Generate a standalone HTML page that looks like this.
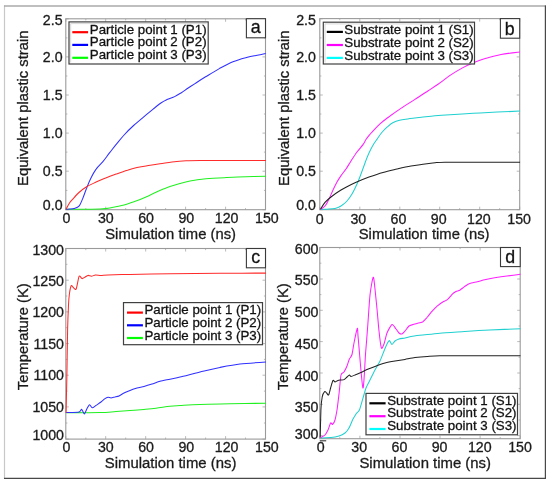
<!DOCTYPE html>
<html lang="en">
<head>
<meta charset="utf-8">
<title>Simulation plots</title>
<style>html,body{margin:0;padding:0;background:#ffffff;}body{width:550px;height:483px;overflow:hidden;}</style>
</head>
<body>
<svg width="550" height="483" viewBox="0 0 550 483" font-family='"Liberation Sans", sans-serif' style="display:block" stroke-linecap="butt">
<style>text{stroke:#1a1a1a;stroke-width:0.3px;paint-order:stroke;}</style>
<rect x="0" y="0" width="550" height="483" fill="#ffffff"/>
<line x1="4.5" y1="5.5" x2="4.5" y2="478.5" stroke="#c8c8c8" stroke-width="1.2"/>
<line x1="4" y1="6" x2="546" y2="6" stroke="#aaaaaa" stroke-width="1.5"/>
<line x1="545.4" y1="5.5" x2="545.4" y2="479" stroke="#484848" stroke-width="1.2"/>
<line x1="4" y1="478.3" x2="546" y2="478.3" stroke="#484848" stroke-width="1.2"/>
<g id="panel-a">
<clipPath id="clip-a"><rect x="65.2" y="18.2" width="200.9" height="192.2"/></clipPath>
<path d="M65.8,209.7 v-3.0 M65.8,18.8 v3.0 M85.8,209.7 v-1.6 M85.8,18.8 v1.6 M105.7,209.7 v-3.0 M105.7,18.8 v3.0 M125.7,209.7 v-1.6 M125.7,18.8 v1.6 M145.7,209.7 v-3.0 M145.7,18.8 v3.0 M165.6,209.7 v-1.6 M165.6,18.8 v1.6 M185.6,209.7 v-3.0 M185.6,18.8 v3.0 M205.6,209.7 v-1.6 M205.6,18.8 v1.6 M225.6,209.7 v-3.0 M225.6,18.8 v3.0 M245.5,209.7 v-1.6 M245.5,18.8 v1.6 M265.5,209.7 v-3.0 M265.5,18.8 v3.0 M65.8,18.8 h3.0 M265.5,18.8 h-3.0 M65.8,37.9 h1.6 M265.5,37.9 h-1.6 M65.8,56.9 h3.0 M265.5,56.9 h-3.0 M65.8,76.0 h1.6 M265.5,76.0 h-1.6 M65.8,95.0 h3.0 M265.5,95.0 h-3.0 M65.8,114.0 h1.6 M265.5,114.0 h-1.6 M65.8,133.1 h3.0 M265.5,133.1 h-3.0 M65.8,152.1 h1.6 M265.5,152.1 h-1.6 M65.8,171.2 h3.0 M265.5,171.2 h-3.0 M65.8,190.4 h1.6 M265.5,190.4 h-1.6 M65.8,209.7 h3.0 M265.5,209.7 h-3.0" stroke="#a8a8a8" stroke-width="0.8" fill="none"/>
<rect x="65.8" y="18.8" width="199.7" height="190.9" fill="none" stroke="#9a9a9a" stroke-width="1.1"/>
<g clip-path="url(#clip-a)" fill="none" stroke-width="1.05" stroke-linejoin="round">
<path d="M65.8,209.3 C71.5,209.2 92.3,209.3 100.0,209.0 C107.7,208.7 108.0,208.3 112.0,207.6 C116.0,206.9 120.0,206.1 124.0,205.0 C128.0,203.9 132.3,202.3 136.0,201.0 C139.7,199.7 142.7,198.5 146.0,197.0 C149.3,195.5 153.0,193.6 156.0,192.2 C159.0,190.8 161.7,189.7 164.0,188.8 C166.3,187.9 167.3,187.5 170.0,186.6 C172.7,185.7 176.7,184.3 180.0,183.4 C183.3,182.5 185.7,181.8 190.0,181.0 C194.3,180.2 200.0,179.4 206.0,178.8 C212.0,178.2 219.3,177.9 226.0,177.6 C232.7,177.3 239.3,177.0 246.0,176.8 C252.7,176.6 262.7,176.3 266.0,176.2" stroke="#20f020"/>
<path d="M65.8,209.3 C66.5,209.3 68.6,209.2 70.0,209.1 C71.4,209.0 72.5,209.1 74.0,208.6 C75.5,208.1 77.6,207.8 79.0,206.2 C80.4,204.6 81.2,202.1 82.5,199.1 C83.8,196.1 85.2,191.6 86.6,188.2 C87.9,184.8 89.0,181.9 90.6,178.7 C92.2,175.5 94.0,171.9 96.1,169.1 C98.1,166.2 100.6,164.3 102.9,161.6 C105.2,158.9 107.4,155.6 109.7,152.7 C112.0,149.8 114.2,146.8 116.6,143.9 C119.0,141.0 121.3,138.1 124.1,135.0 C126.9,131.9 129.7,129.0 133.6,125.5 C137.5,122.0 142.8,117.7 147.3,113.9 C151.9,110.2 157.5,105.4 160.9,103.0 C164.3,100.6 165.4,100.4 167.7,99.3 C170.0,98.2 172.3,97.7 174.6,96.6 C176.9,95.5 179.1,94.1 181.4,92.7 C183.7,91.3 185.9,89.5 188.2,88.0 C190.5,86.5 192.1,85.5 195.0,83.6 C197.9,81.7 201.5,79.3 205.6,76.8 C209.7,74.3 214.8,71.1 219.3,68.6 C223.9,66.1 228.4,63.6 232.9,61.8 C237.4,59.9 242.1,58.7 246.6,57.5 C251.1,56.3 257.0,55.4 260.2,54.7 C263.4,54.1 264.8,53.8 265.7,53.6" stroke="#3030ff"/>
<path d="M65.8,209.6 C66.4,208.5 68.3,204.8 69.5,203.0 C70.7,201.2 71.3,200.8 72.8,199.1 C74.3,197.4 76.1,195.1 78.4,193.0 C80.7,190.9 83.6,188.6 86.6,186.8 C89.5,185.0 92.9,183.6 96.1,182.1 C99.3,180.6 102.3,179.4 105.7,178.0 C109.1,176.6 113.0,175.2 116.6,173.9 C120.2,172.6 124.1,171.2 127.5,170.2 C130.9,169.1 133.9,168.3 137.0,167.6 C140.1,166.9 142.2,166.5 146.0,165.9 C149.8,165.3 155.7,164.5 160.0,163.8 C164.3,163.2 167.7,162.5 172.0,162.0 C176.3,161.5 181.3,161.0 186.0,160.7 C190.7,160.4 192.7,160.4 200.0,160.4 C207.3,160.4 219.0,160.4 230.0,160.4 C241.0,160.4 260.0,160.4 266.0,160.4" stroke="#ff2a2a"/>
</g>
<text x="62.6" y="24.7" font-size="14.2" text-anchor="end" fill="#1a1a1a">2.5</text>
<text x="62.6" y="62.0" font-size="14.2" text-anchor="end" fill="#1a1a1a">2.0</text>
<text x="62.6" y="100.1" font-size="14.2" text-anchor="end" fill="#1a1a1a">1.5</text>
<text x="62.6" y="138.2" font-size="14.2" text-anchor="end" fill="#1a1a1a">1.0</text>
<text x="62.6" y="176.3" font-size="14.2" text-anchor="end" fill="#1a1a1a">0.5</text>
<text x="62.6" y="210.3" font-size="14.2" text-anchor="end" fill="#1a1a1a">0.0</text>
<text x="66.4" y="223.3" font-size="14.2" text-anchor="middle" fill="#1a1a1a">0</text>
<text x="105.8" y="223.3" font-size="14.2" text-anchor="middle" fill="#1a1a1a">30</text>
<text x="146.1" y="223.3" font-size="14.2" text-anchor="middle" fill="#1a1a1a">60</text>
<text x="186.3" y="223.3" font-size="14.2" text-anchor="middle" fill="#1a1a1a">90</text>
<text x="226.6" y="223.3" font-size="14.2" text-anchor="middle" fill="#1a1a1a">120</text>
<text x="266.9" y="223.3" font-size="14.2" text-anchor="middle" fill="#1a1a1a">150</text>
<text x="170.6" y="239.1" font-size="14.8" text-anchor="middle" fill="#1a1a1a">Simulation time (ns)</text>
<text transform="translate(28.0,108.2) rotate(-90)" font-size="14.8" text-anchor="middle" fill="#1a1a1a">Equivalent plastic strain</text>
<rect x="69.0" y="21.9" width="139.2" height="42.1" fill="#ffffff" stroke="#404040" stroke-width="1.2"/>
<path d="M70.7,62.5 V23.6 H206.7" fill="none" stroke="#d4d4d4" stroke-width="0.9"/>
<line x1="72.3" y1="32.2" x2="88.1" y2="32.2" stroke="#ff0000" stroke-width="2.2"/>
<text x="89.8" y="33.7" font-size="13.3" fill="#111111">Particle point 1 (P1)</text>
<line x1="72.3" y1="44.9" x2="88.1" y2="44.9" stroke="#0000ff" stroke-width="2.2"/>
<text x="89.8" y="46.3" font-size="13.3" fill="#111111">Particle point 2 (P2)</text>
<line x1="72.3" y1="57.8" x2="88.1" y2="57.8" stroke="#00ff00" stroke-width="2.2"/>
<text x="89.8" y="59.2" font-size="13.3" fill="#111111">Particle point 3 (P3)</text>
<rect x="246.4" y="18.7" width="19.1" height="19.1" fill="#ffffff" stroke="#3a3a3a" stroke-width="1.1"/>
<text x="255.6" y="32.9" font-size="17.8" text-anchor="middle" fill="#111111">a</text>
</g>
<g id="panel-b">
<clipPath id="clip-b"><rect x="319.2" y="18.0" width="201.1" height="192.4"/></clipPath>
<path d="M319.8,209.7 v-3.0 M319.8,18.6 v3.0 M339.8,209.7 v-1.6 M339.8,18.6 v1.6 M359.8,209.7 v-3.0 M359.8,18.6 v3.0 M379.8,209.7 v-1.6 M379.8,18.6 v1.6 M399.8,209.7 v-3.0 M399.8,18.6 v3.0 M419.8,209.7 v-1.6 M419.8,18.6 v1.6 M439.7,209.7 v-3.0 M439.7,18.6 v3.0 M459.7,209.7 v-1.6 M459.7,18.6 v1.6 M479.7,209.7 v-3.0 M479.7,18.6 v3.0 M499.7,209.7 v-1.6 M499.7,18.6 v1.6 M519.7,209.7 v-3.0 M519.7,18.6 v3.0 M319.8,18.8 h3.0 M519.7,18.8 h-3.0 M319.8,37.9 h1.6 M519.7,37.9 h-1.6 M319.8,56.9 h3.0 M519.7,56.9 h-3.0 M319.8,76.0 h1.6 M519.7,76.0 h-1.6 M319.8,95.0 h3.0 M519.7,95.0 h-3.0 M319.8,114.0 h1.6 M519.7,114.0 h-1.6 M319.8,133.1 h3.0 M519.7,133.1 h-3.0 M319.8,152.1 h1.6 M519.7,152.1 h-1.6 M319.8,171.2 h3.0 M519.7,171.2 h-3.0 M319.8,190.4 h1.6 M519.7,190.4 h-1.6 M319.8,209.7 h3.0 M519.7,209.7 h-3.0" stroke="#a8a8a8" stroke-width="0.8" fill="none"/>
<rect x="319.8" y="18.6" width="199.9" height="191.1" fill="none" stroke="#9a9a9a" stroke-width="1.1"/>
<g clip-path="url(#clip-b)" fill="none" stroke-width="1.05" stroke-linejoin="round">
<path d="M320.4,209.3 C321.5,209.3 324.6,209.3 327.0,209.2 C329.4,209.0 332.7,208.9 335.0,208.4 C337.3,207.9 339.0,207.2 341.0,206.0 C343.0,204.8 345.2,203.0 347.0,201.0 C348.8,199.0 350.3,196.8 352.0,194.0 C353.7,191.2 355.5,187.3 357.0,184.0 C358.5,180.7 359.7,177.5 361.0,174.0 C362.3,170.5 363.7,166.5 365.0,163.0 C366.3,159.5 367.5,156.2 369.0,153.0 C370.5,149.8 372.6,145.9 374.0,143.6 C375.4,141.3 375.8,140.9 377.1,139.1 C378.4,137.2 380.1,134.5 381.8,132.5 C383.5,130.5 385.5,128.5 387.3,126.9 C389.1,125.3 390.6,123.9 392.7,122.8 C394.8,121.7 397.1,120.8 399.6,120.2 C402.1,119.6 404.1,119.4 407.7,118.9 C411.3,118.4 416.8,117.8 421.4,117.3 C425.9,116.8 430.2,116.2 435.0,115.8 C439.8,115.4 442.5,115.2 450.0,114.7 C457.5,114.2 468.3,113.5 480.0,112.9 C491.7,112.3 513.5,111.4 520.2,111.1" stroke="#20d0d0"/>
<path d="M320.4,209.3 C321.2,208.8 323.6,207.7 325.0,206.0 C326.4,204.3 327.7,201.7 329.0,199.0 C330.3,196.3 331.7,192.8 333.0,190.0 C334.3,187.2 335.7,184.4 337.0,182.0 C338.3,179.6 339.5,177.8 341.0,175.6 C342.5,173.4 344.3,171.4 346.0,169.0 C347.7,166.6 349.2,163.8 351.0,161.0 C352.8,158.2 355.0,154.7 357.0,152.0 C359.0,149.3 361.5,146.7 363.0,144.6 C364.5,142.5 365.0,141.0 366.1,139.3 C367.2,137.6 368.6,136.1 369.8,134.6 C371.1,133.1 371.8,132.2 373.6,130.3 C375.4,128.4 378.2,125.5 380.5,123.4 C382.8,121.4 383.9,120.5 387.3,118.0 C390.7,115.5 396.3,111.5 400.9,108.4 C405.4,105.3 410.1,102.5 414.6,99.6 C419.2,96.6 424.3,93.2 428.2,90.7 C432.1,88.2 434.4,86.8 438.0,84.3 C441.6,81.8 446.0,78.1 450.0,75.4 C454.0,72.7 458.0,70.3 462.0,68.1 C466.0,65.9 470.0,64.0 474.0,62.4 C478.0,60.8 481.5,59.6 486.0,58.3 C490.5,57.0 495.3,55.6 501.0,54.5 C506.7,53.4 517.0,52.3 520.2,51.9" stroke="#ff20ff"/>
<path d="M320.4,209.3 C321.2,208.2 323.2,204.5 325.0,202.4 C326.8,200.3 328.3,199.1 331.0,197.0 C333.7,194.9 337.0,192.4 341.0,190.0 C345.0,187.6 350.3,185.0 355.0,182.8 C359.7,180.6 364.3,178.7 369.0,177.0 C373.7,175.3 378.3,173.7 383.0,172.4 C387.7,171.1 392.3,170.1 397.0,169.0 C401.7,167.9 406.3,166.8 411.0,166.0 C415.7,165.2 421.0,164.6 425.0,164.0 C429.0,163.4 431.7,163.0 435.0,162.7 C438.3,162.4 437.5,162.3 445.0,162.2 C452.5,162.1 467.5,162.2 480.0,162.2 C492.5,162.2 513.5,162.2 520.2,162.2" stroke="#222222"/>
</g>
<text x="315.9" y="24.7" font-size="14.2" text-anchor="end" fill="#1a1a1a">2.5</text>
<text x="315.9" y="62.0" font-size="14.2" text-anchor="end" fill="#1a1a1a">2.0</text>
<text x="315.9" y="100.1" font-size="14.2" text-anchor="end" fill="#1a1a1a">1.5</text>
<text x="315.9" y="138.2" font-size="14.2" text-anchor="end" fill="#1a1a1a">1.0</text>
<text x="315.9" y="176.3" font-size="14.2" text-anchor="end" fill="#1a1a1a">0.5</text>
<text x="315.9" y="210.3" font-size="14.2" text-anchor="end" fill="#1a1a1a">0.0</text>
<text x="319.6" y="223.9" font-size="14.2" text-anchor="middle" fill="#1a1a1a">0</text>
<text x="358.3" y="223.9" font-size="14.2" text-anchor="middle" fill="#1a1a1a">30</text>
<text x="398.5" y="223.9" font-size="14.2" text-anchor="middle" fill="#1a1a1a">60</text>
<text x="438.7" y="223.9" font-size="14.2" text-anchor="middle" fill="#1a1a1a">90</text>
<text x="478.9" y="223.9" font-size="14.2" text-anchor="middle" fill="#1a1a1a">120</text>
<text x="519.1" y="223.9" font-size="14.2" text-anchor="middle" fill="#1a1a1a">150</text>
<text x="424.1" y="238.6" font-size="14.8" text-anchor="middle" fill="#1a1a1a">Simulation time (ns)</text>
<text transform="translate(288.9,108.2) rotate(-90)" font-size="14.8" text-anchor="middle" fill="#1a1a1a">Equivalent plastic strain</text>
<rect x="323.3" y="22.2" width="151.2" height="41.8" fill="#ffffff" stroke="#404040" stroke-width="1.2"/>
<path d="M325.0,62.5 V23.9 H473.0" fill="none" stroke="#d4d4d4" stroke-width="0.9"/>
<line x1="326.8" y1="31.9" x2="342.9" y2="31.9" stroke="#000000" stroke-width="2.2"/>
<text x="344.3" y="33.8" font-size="13.3" fill="#111111">Substrate point 1 (S1)</text>
<line x1="326.8" y1="45.0" x2="342.9" y2="45.0" stroke="#ff00ff" stroke-width="2.2"/>
<text x="344.3" y="46.6" font-size="13.3" fill="#111111">Substrate point 2 (S2)</text>
<line x1="326.8" y1="57.9" x2="342.9" y2="57.9" stroke="#00ffff" stroke-width="2.2"/>
<text x="344.3" y="59.6" font-size="13.3" fill="#111111">Substrate point 3 (S3)</text>
<rect x="500.4" y="18.6" width="19.3" height="19.6" fill="#ffffff" stroke="#3a3a3a" stroke-width="1.1"/>
<text x="509.8" y="35.0" font-size="17.8" text-anchor="middle" fill="#111111">b</text>
</g>
<g id="panel-c">
<clipPath id="clip-c"><rect x="65.2" y="247.9" width="200.9" height="191.9"/></clipPath>
<path d="M65.8,439.1 v-3.0 M65.8,248.5 v3.0 M85.8,439.1 v-1.6 M85.8,248.5 v1.6 M105.7,439.1 v-3.0 M105.7,248.5 v3.0 M125.7,439.1 v-1.6 M125.7,248.5 v1.6 M145.7,439.1 v-3.0 M145.7,248.5 v3.0 M165.6,439.1 v-1.6 M165.6,248.5 v1.6 M185.6,439.1 v-3.0 M185.6,248.5 v3.0 M205.6,439.1 v-1.6 M205.6,248.5 v1.6 M225.6,439.1 v-3.0 M225.6,248.5 v3.0 M245.5,439.1 v-1.6 M245.5,248.5 v1.6 M265.5,439.1 v-3.0 M265.5,248.5 v3.0 M65.8,248.5 h3.0 M265.5,248.5 h-3.0 M65.8,264.3 h1.6 M265.5,264.3 h-1.6 M65.8,280.2 h3.0 M265.5,280.2 h-3.0 M65.8,296.0 h1.6 M265.5,296.0 h-1.6 M65.8,311.9 h3.0 M265.5,311.9 h-3.0 M65.8,327.7 h1.6 M265.5,327.7 h-1.6 M65.8,343.6 h3.0 M265.5,343.6 h-3.0 M65.8,359.4 h1.6 M265.5,359.4 h-1.6 M65.8,375.2 h3.0 M265.5,375.2 h-3.0 M65.8,391.1 h1.6 M265.5,391.1 h-1.6 M65.8,406.9 h3.0 M265.5,406.9 h-3.0 M65.8,423.0 h1.6 M265.5,423.0 h-1.6 M65.8,439.1 h3.0 M265.5,439.1 h-3.0" stroke="#a8a8a8" stroke-width="0.8" fill="none"/>
<rect x="65.8" y="248.5" width="199.7" height="190.6" fill="none" stroke="#9a9a9a" stroke-width="1.1"/>
<g clip-path="url(#clip-c)" fill="none" stroke-width="1.05" stroke-linejoin="round">
<path d="M65.9,412.6 C71.6,412.6 91.7,412.8 100.0,412.6 C108.3,412.4 111.0,411.9 116.0,411.6 C121.0,411.3 125.3,411.0 130.0,410.6 C134.7,410.2 139.7,409.8 144.0,409.4 C148.3,409.0 151.7,408.7 156.0,408.2 C160.3,407.7 166.0,406.6 170.0,406.2 C174.0,405.8 175.0,405.8 180.0,405.5 C185.0,405.2 191.7,404.7 200.0,404.4 C208.3,404.1 219.0,404.0 230.0,403.8 C241.0,403.6 260.0,403.3 266.0,403.2" stroke="#20f020"/>
<path d="M65.9,412.6 C67.4,412.5 77.2,412.4 79.0,412.0 C80.8,411.6 81.0,409.0 81.6,409.2 C82.2,409.4 83.8,414.1 84.4,414.0 C85.0,413.9 86.4,409.6 87.0,408.5 C87.6,407.4 89.0,404.8 89.6,404.7 C90.2,404.6 91.5,407.7 92.2,407.8 C92.9,407.9 95.0,406.1 96.0,405.4 C97.0,404.7 100.0,402.8 101.0,402.0 C102.0,401.2 104.2,399.2 105.0,398.6 C105.8,398.0 107.3,397.3 108.0,397.2 C108.7,397.1 110.2,398.0 111.0,398.0 C111.8,398.0 114.1,397.2 115.0,397.0 C115.9,396.8 118.0,396.5 119.0,396.0 C120.0,395.5 122.7,393.7 124.0,393.0 C125.3,392.3 128.5,391.0 130.0,390.4 C131.5,389.8 135.4,388.5 137.0,388.0 C138.6,387.5 142.2,386.9 144.0,386.4 C145.8,385.9 150.1,384.6 152.0,384.0 C153.9,383.4 157.9,381.9 160.0,381.3 C162.1,380.7 167.7,379.7 170.0,379.2 C172.3,378.7 176.5,377.8 180.0,377.0 C183.5,376.2 195.3,373.1 200.0,372.0 C204.7,370.9 215.3,368.3 220.0,367.4 C224.7,366.5 234.6,364.6 240.0,364.0 C245.4,363.4 263.0,362.2 266.0,362.0" stroke="#3030ff"/>
<path d="M66.0,413.0 C66.1,409.1 66.6,389.7 66.8,380.0 C67.0,370.3 67.4,338.8 67.6,330.0 C67.8,321.2 68.3,309.2 68.5,305.0 C68.7,300.8 69.1,296.3 69.4,294.0 C69.7,291.7 70.8,286.4 71.3,285.6 C71.8,284.8 72.7,287.1 73.3,287.5 C73.9,287.9 75.5,290.3 76.2,289.0 C76.9,287.7 78.4,277.4 79.1,276.2 C79.8,275.0 81.3,278.5 82.0,278.6 C82.7,278.7 84.5,277.4 85.2,277.0 C85.9,276.6 87.3,275.5 88.0,275.4 C88.7,275.3 90.5,276.2 91.4,276.2 C92.3,276.2 94.4,275.1 95.5,275.0 C96.6,274.9 99.5,275.4 101.0,275.4 C102.5,275.4 104.6,275.0 108.0,274.9 C111.4,274.8 122.8,274.5 130.0,274.4 C137.2,274.3 159.5,273.9 170.0,273.8 C180.5,273.7 208.8,273.4 220.0,273.3 C231.2,273.2 260.6,273.1 266.0,273.1" stroke="#ff2a2a"/>
</g>
<text x="64.0" y="254.6" font-size="14.2" text-anchor="end" fill="#1a1a1a">1300</text>
<text x="64.0" y="285.7" font-size="14.2" text-anchor="end" fill="#1a1a1a">1250</text>
<text x="64.0" y="317.2" font-size="14.2" text-anchor="end" fill="#1a1a1a">1200</text>
<text x="64.0" y="348.9" font-size="14.2" text-anchor="end" fill="#1a1a1a">1150</text>
<text x="64.0" y="380.3" font-size="14.2" text-anchor="end" fill="#1a1a1a">1100</text>
<text x="64.0" y="412.0" font-size="14.2" text-anchor="end" fill="#1a1a1a">1050</text>
<text x="64.0" y="440.0" font-size="14.2" text-anchor="end" fill="#1a1a1a">1000</text>
<text x="66.4" y="452.0" font-size="14.2" text-anchor="middle" fill="#1a1a1a">0</text>
<text x="105.8" y="452.0" font-size="14.2" text-anchor="middle" fill="#1a1a1a">30</text>
<text x="146.1" y="452.0" font-size="14.2" text-anchor="middle" fill="#1a1a1a">60</text>
<text x="186.3" y="452.0" font-size="14.2" text-anchor="middle" fill="#1a1a1a">90</text>
<text x="226.6" y="452.0" font-size="14.2" text-anchor="middle" fill="#1a1a1a">120</text>
<text x="266.9" y="452.0" font-size="14.2" text-anchor="middle" fill="#1a1a1a">150</text>
<text x="170.6" y="468.4" font-size="14.9" text-anchor="middle" fill="#1a1a1a">Simulation time (ns)</text>
<text transform="translate(27.8,336.7) rotate(-90)" font-size="14.8" text-anchor="middle" fill="#1a1a1a">Temperature (K)</text>
<rect x="123.5" y="302.6" width="139.0" height="42.1" fill="#ffffff" stroke="#404040" stroke-width="1.2"/>
<line x1="127.0" y1="312.6" x2="142.9" y2="312.6" stroke="#ff0000" stroke-width="2.2"/>
<text x="144.4" y="313.9" font-size="13.3" fill="#111111">Particle point 1 (P1)</text>
<line x1="127.0" y1="325.3" x2="142.9" y2="325.3" stroke="#0000ff" stroke-width="2.2"/>
<text x="144.4" y="326.7" font-size="13.3" fill="#111111">Particle point 2 (P2)</text>
<line x1="127.0" y1="338.0" x2="142.9" y2="338.0" stroke="#00ff00" stroke-width="2.2"/>
<text x="144.4" y="339.5" font-size="13.3" fill="#111111">Particle point 3 (P3)</text>
<rect x="246.4" y="248.5" width="19.1" height="19.3" fill="#ffffff" stroke="#3a3a3a" stroke-width="1.1"/>
<text x="255.6" y="262.5" font-size="17.8" text-anchor="middle" fill="#111111">c</text>
</g>
<g id="panel-d">
<clipPath id="clip-d"><rect x="319.2" y="246.9" width="201.6" height="192.5"/></clipPath>
<path d="M319.8,438.7 v-3.0 M319.8,247.5 v3.0 M339.8,438.7 v-1.6 M339.8,247.5 v1.6 M359.9,438.7 v-3.0 M359.9,247.5 v3.0 M379.9,438.7 v-1.6 M379.9,247.5 v1.6 M400.0,438.7 v-3.0 M400.0,247.5 v3.0 M420.0,438.7 v-1.6 M420.0,247.5 v1.6 M440.0,438.7 v-3.0 M440.0,247.5 v3.0 M460.1,438.7 v-1.6 M460.1,247.5 v1.6 M480.1,438.7 v-3.0 M480.1,247.5 v3.0 M500.2,438.7 v-1.6 M500.2,247.5 v1.6 M520.2,438.7 v-3.0 M520.2,247.5 v3.0 M319.8,247.5 h3.0 M520.2,247.5 h-3.0 M319.8,263.2 h1.6 M520.2,263.2 h-1.6 M319.8,279.0 h3.0 M520.2,279.0 h-3.0 M319.8,294.6 h1.6 M520.2,294.6 h-1.6 M319.8,310.3 h3.0 M520.2,310.3 h-3.0 M319.8,326.0 h1.6 M520.2,326.0 h-1.6 M319.8,341.6 h3.0 M520.2,341.6 h-3.0 M319.8,357.3 h1.6 M520.2,357.3 h-1.6 M319.8,373.0 h3.0 M520.2,373.0 h-3.0 M319.8,388.6 h1.6 M520.2,388.6 h-1.6 M319.8,404.3 h3.0 M520.2,404.3 h-3.0 M319.8,420.0 h1.6 M520.2,420.0 h-1.6 M319.8,435.6 h3.0 M520.2,435.6 h-3.0" stroke="#a8a8a8" stroke-width="0.8" fill="none"/>
<rect x="319.8" y="247.5" width="200.4" height="191.2" fill="none" stroke="#9a9a9a" stroke-width="1.1"/>
<g clip-path="url(#clip-d)" fill="none" stroke-width="1.05" stroke-linejoin="round">
<path d="M320.6,438.0 C321.8,438.0 328.9,437.8 331.0,437.6 C333.1,437.4 337.4,436.5 339.0,436.0 C340.6,435.5 343.8,433.9 345.0,433.0 C346.2,432.1 348.1,429.6 349.0,428.0 C349.9,426.4 352.2,420.6 353.0,419.0 C353.8,417.4 355.3,415.1 356.0,414.0 C356.7,412.9 358.6,411.9 359.4,410.0 C360.2,408.1 362.2,400.6 363.0,398.0 C363.8,395.4 365.2,390.1 366.0,388.0 C366.8,385.9 368.9,382.1 370.0,380.0 C371.1,377.9 373.8,372.2 375.0,370.0 C376.2,367.8 378.9,363.2 380.0,361.0 C381.1,358.8 383.2,353.0 384.0,351.0 C384.8,349.0 386.4,345.2 387.0,344.0 C387.6,342.8 388.8,340.6 389.4,340.6 C390.0,340.6 391.3,344.4 392.0,344.4 C392.7,344.4 394.2,341.6 395.0,341.0 C395.8,340.4 397.8,339.4 399.0,339.0 C400.2,338.6 403.6,338.3 405.0,338.0 C406.4,337.7 409.6,336.9 411.0,336.6 C412.4,336.3 415.1,335.8 417.0,335.6 C418.9,335.4 424.7,334.8 427.4,334.5 C430.1,334.2 435.5,333.6 439.9,333.2 C444.3,332.8 458.9,331.9 464.7,331.5 C470.5,331.1 483.1,330.3 489.6,330.0 C496.1,329.7 517.0,328.9 520.6,328.8" stroke="#20d0d0"/>
<path d="M320.6,437.6 C321.1,437.3 324.1,435.9 325.0,435.0 C325.9,434.1 327.3,431.4 328.0,430.0 C328.7,428.6 330.1,423.7 330.6,423.0 C331.1,422.3 332.1,424.8 332.6,424.4 C333.1,424.0 334.5,421.7 335.0,420.0 C335.5,418.3 336.5,413.0 337.0,410.0 C337.5,407.0 338.5,398.1 339.0,394.0 C339.5,389.9 340.4,377.6 341.0,375.0 C341.6,372.4 343.3,373.1 344.0,372.0 C344.7,370.9 346.4,367.5 347.0,366.0 C347.6,364.5 348.8,360.3 349.4,359.0 C350.0,357.7 351.5,356.4 352.0,354.5 C352.5,352.6 353.4,346.0 354.0,343.0 C354.6,340.0 356.8,329.0 357.3,328.4 C357.8,327.8 357.5,331.0 358.2,338.0 C358.9,345.0 362.0,386.2 362.9,388.0 C363.8,389.8 365.0,360.4 365.6,353.0 C366.2,345.6 367.3,331.8 367.8,325.0 C368.3,318.2 369.4,300.6 370.0,295.0 C370.6,289.4 372.6,277.9 373.2,277.2 C373.8,276.5 374.6,285.3 375.0,289.0 C375.4,292.7 376.5,304.1 377.0,309.0 C377.5,313.9 378.5,326.4 379.0,331.0 C379.5,335.6 380.8,346.5 381.4,348.0 C382.0,349.5 383.3,345.8 384.0,344.0 C384.7,342.2 386.1,335.3 387.0,333.0 C387.9,330.7 390.9,325.1 392.0,324.6 C393.1,324.1 395.2,328.0 396.0,329.0 C396.8,330.0 398.3,332.4 399.0,333.0 C399.7,333.6 401.3,334.2 402.0,334.0 C402.7,333.8 404.2,331.9 405.0,331.0 C405.8,330.1 408.1,326.7 409.0,326.0 C409.9,325.3 412.1,324.9 413.0,324.6 C413.9,324.3 415.9,323.7 417.0,323.4 C418.1,323.1 421.3,322.7 422.5,322.0 C423.7,321.3 426.2,318.3 427.4,317.0 C428.6,315.7 431.2,312.2 432.4,310.9 C433.6,309.6 436.2,306.9 437.4,305.9 C438.6,304.9 441.2,302.9 442.4,302.2 C443.6,301.5 446.1,300.6 447.3,299.7 C448.5,298.8 451.3,295.2 452.3,294.2 C453.3,293.2 455.1,292.0 456.0,291.5 C456.9,291.0 458.8,290.8 459.8,290.2 C460.8,289.6 463.5,287.3 464.7,286.5 C465.9,285.7 468.2,284.0 469.7,283.5 C471.2,283.0 475.5,282.2 477.2,281.8 C478.9,281.4 482.6,280.3 484.6,279.8 C486.6,279.3 492.0,278.2 494.6,277.8 C497.2,277.4 504.0,276.4 507.0,276.0 C510.0,275.6 519.0,274.5 520.6,274.3" stroke="#ff20ff"/>
<path d="M320.2,437.6 C320.3,434.4 320.7,414.7 320.9,410.0 C321.1,405.3 321.8,399.1 322.2,397.0 C322.6,394.9 324.1,392.1 324.6,391.6 C325.1,391.1 326.1,392.6 326.6,393.0 C327.1,393.4 328.1,395.6 328.6,395.0 C329.1,394.4 330.1,389.7 330.6,388.0 C331.1,386.3 332.5,381.1 333.0,380.4 C333.5,379.7 334.4,382.0 335.0,382.0 C335.6,382.0 337.3,380.6 338.0,380.4 C338.7,380.2 340.3,380.1 341.0,380.0 C341.7,379.9 343.3,380.0 344.0,379.6 C344.7,379.2 346.4,377.5 347.0,377.0 C347.6,376.5 348.9,375.1 349.4,375.0 C349.9,374.9 350.3,376.4 351.0,376.4 C351.7,376.4 353.8,375.5 355.0,375.0 C356.2,374.5 359.6,373.0 361.0,372.4 C362.4,371.8 365.4,370.3 367.0,369.6 C368.6,368.9 372.9,367.2 375.0,366.4 C377.1,365.6 382.7,363.6 385.0,363.0 C387.3,362.4 392.7,361.4 395.0,361.0 C397.3,360.6 402.7,359.8 405.0,359.4 C407.3,359.0 412.4,357.9 415.0,357.6 C417.6,357.3 424.5,356.7 427.4,356.5 C430.3,356.3 433.8,355.9 439.9,355.8 C446.0,355.7 470.6,355.7 480.0,355.7 C489.4,355.7 515.9,355.7 520.6,355.7" stroke="#222222"/>
</g>
<text x="318.5" y="253.7" font-size="14.2" text-anchor="end" fill="#1a1a1a">600</text>
<text x="318.5" y="284.8" font-size="14.2" text-anchor="end" fill="#1a1a1a">550</text>
<text x="318.5" y="316.6" font-size="14.2" text-anchor="end" fill="#1a1a1a">500</text>
<text x="318.5" y="349.4" font-size="14.2" text-anchor="end" fill="#1a1a1a">450</text>
<text x="318.5" y="380.8" font-size="14.2" text-anchor="end" fill="#1a1a1a">400</text>
<text x="318.5" y="411.8" font-size="14.2" text-anchor="end" fill="#1a1a1a">350</text>
<text x="318.5" y="439.2" font-size="14.2" text-anchor="end" fill="#1a1a1a">300</text>
<text x="320.8" y="452.0" font-size="14.2" text-anchor="middle" fill="#1a1a1a">0</text>
<text x="359.2" y="452.0" font-size="14.2" text-anchor="middle" fill="#1a1a1a">30</text>
<text x="399.4" y="452.0" font-size="14.2" text-anchor="middle" fill="#1a1a1a">60</text>
<text x="439.6" y="452.0" font-size="14.2" text-anchor="middle" fill="#1a1a1a">90</text>
<text x="479.8" y="452.0" font-size="14.2" text-anchor="middle" fill="#1a1a1a">120</text>
<text x="520.0" y="452.0" font-size="14.2" text-anchor="middle" fill="#1a1a1a">150</text>
<text x="425.2" y="468.4" font-size="14.9" text-anchor="middle" fill="#1a1a1a">Simulation time (ns)</text>
<text transform="translate(288.2,336.7) rotate(-90)" font-size="14.8" text-anchor="middle" fill="#1a1a1a">Temperature (K)</text>
<rect x="366.0" y="393.4" width="151.5" height="41.4" fill="#ffffff" stroke="#404040" stroke-width="1.2"/>
<line x1="369.4" y1="403.3" x2="385.6" y2="403.3" stroke="#000000" stroke-width="2.2"/>
<text x="387.2" y="404.6" font-size="13.3" fill="#111111">Substrate point 1 (S1)</text>
<line x1="369.4" y1="416.2" x2="385.6" y2="416.2" stroke="#ff00ff" stroke-width="2.2"/>
<text x="387.2" y="417.3" font-size="13.3" fill="#111111">Substrate point 2 (S2)</text>
<line x1="369.4" y1="429.0" x2="385.6" y2="429.0" stroke="#00ffff" stroke-width="2.2"/>
<text x="387.2" y="430.3" font-size="13.3" fill="#111111">Substrate point 3 (S3)</text>
<rect x="500.5" y="247.5" width="19.7" height="19.1" fill="#ffffff" stroke="#3a3a3a" stroke-width="1.1"/>
<text x="510.1" y="262.9" font-size="17.8" text-anchor="middle" fill="#111111">d</text>
<line x1="319.8" y1="440.8" x2="326.2" y2="440.8" stroke="#333333" stroke-width="1.1"/>
</g>
</svg>
</body>
</html>
